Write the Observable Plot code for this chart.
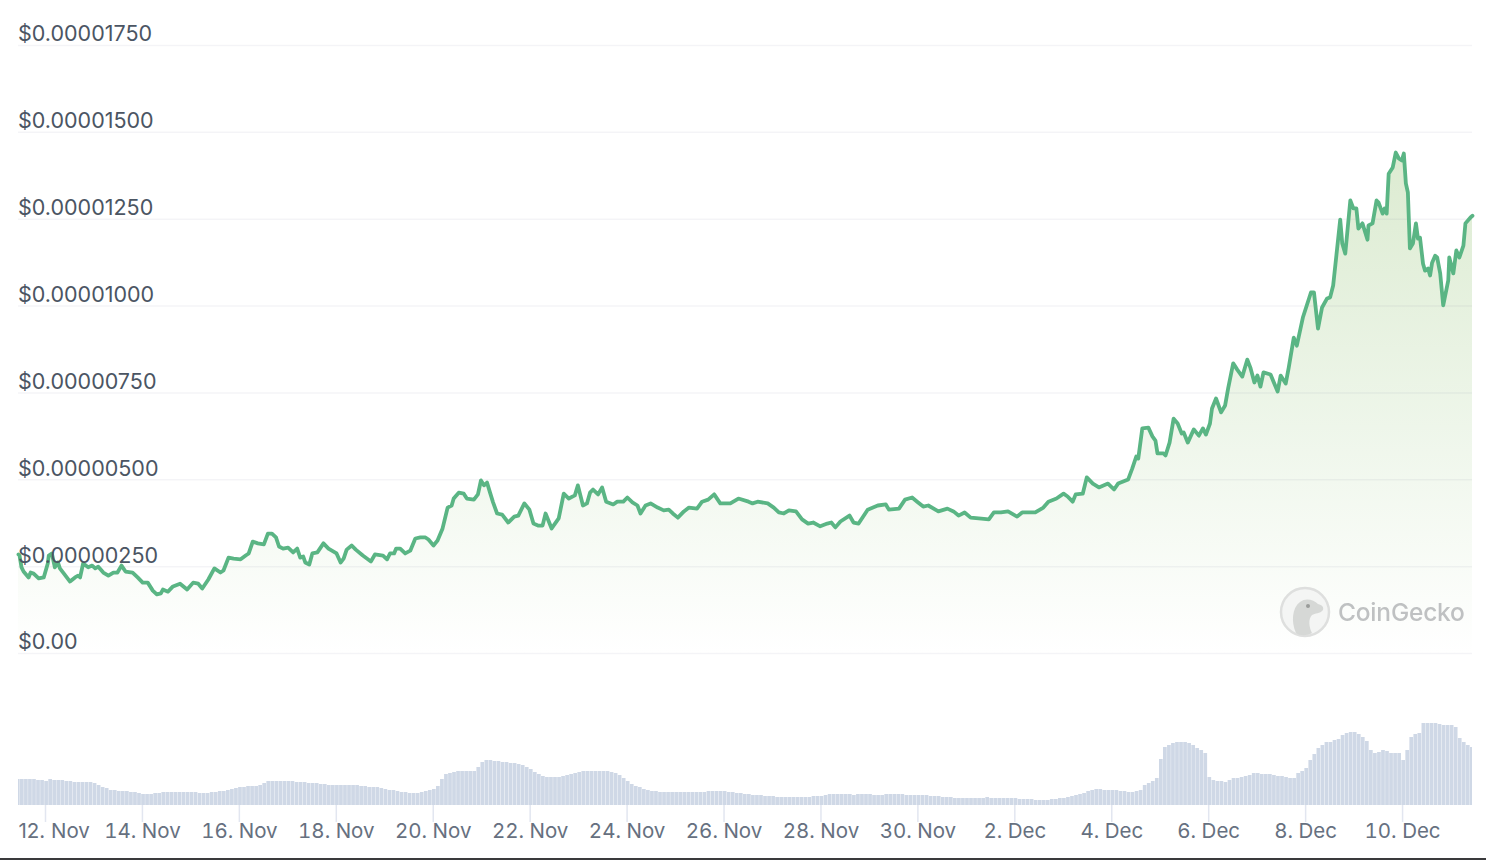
<!DOCTYPE html>
<html>
<head>
<meta charset="utf-8">
<script src="https://cdn.jsdelivr.net/npm/d3@7"></script>
<script src="https://cdn.jsdelivr.net/npm/@observablehq/plot@0.6"></script>
<style>
html,body{margin:0;padding:0;background:#fff;width:1486px;height:860px;overflow:hidden;}
#chart{position:relative;width:1486px;height:860px;}
#chart svg.plot{position:absolute;left:0;filter:blur(0.7px);}
#mark{position:absolute;left:1279px;top:586px;width:190px;height:54px;filter:blur(0.7px);}
#mark span{position:absolute;left:59px;top:11px;font:500 24.5px Inter,sans-serif;color:#bfc1c2;letter-spacing:-0.2px;}
#bottomline{position:absolute;left:0;top:858px;width:1486px;height:2px;background:#3a3a3c;}
</style>
</head>
<body>
<div id="chart"></div>
<script>
// 30-minute sample number since the start of the window
const sampleIndex = [0,1,3,5,10,12,15,20,25,29,30,33,36,39,41,45,51,56,59,61,64,69,73,76,79,84,89,94,98,102,106,113,118,123,128,133,137,141,143,148,153,160,167,173,178,182,188,194,200,203,208,213,220,225,228,232,237,243,247,251,255,258,262,267,272,276,279,282,284,288,291,296,302,307,315,319,322,325,330,334,341,349,353,361,365,368,372,374,378,383,388,393,398,403,406,411,415,420,425,429,431,436,441,444,451,455,458,461,464,467,470,474,479,485,491,495,501,506,510,515,519,522,528,535,540,545,551,554,559,563,566,569,574,578,582,589,593,599,603,608,613,616,621,626,633,639,644,648,653,659,664,672,677,683,689,695,705,713,723,727,732,742,748,753,758,763,770,776,782,787,794,801,805,809,814,823,827,832,841,851,859,862,872,878,885,890,896,901,911,920,926,931,937,943,951,961,966,973,980,989,994,1007,1015,1020,1028,1035,1039,1044,1047,1054,1058,1064,1070,1079,1085,1089,1099,1103,1107,1109,1113,1119,1123,1126,1128,1134,1136,1140,1144,1148,1152,1154,1158,1164,1169,1173,1176,1180,1182,1186,1191,1195,1198,1203,1207,1212,1217,1220,1224,1227,1230,1233,1240,1247,1250,1255,1258,1263,1266,1272,1280,1283,1287,1291,1296,1299,1302,1309,1311,1314,1319,1322,1325,1327,1331,1336,1337,1341,1345,1347,1351,1353,1355,1357,1361,1364,1367,1370,1372,1374,1376,1378,1381,1384,1386,1388,1391,1393,1396,1398,1400,1403,1405,1408,1411,1416,1417,1421,1424,1427,1431,1433,1438,1440];
// price in millionths of a dollar
const priceMicro = [2.85,2.82,2.48,2.36,2.19,2.33,2.30,2.16,2.19,2.59,2.82,2.88,2.48,2.62,2.45,2.30,2.07,2.19,2.24,2.19,2.59,2.48,2.53,2.45,2.50,2.33,2.24,2.33,2.33,2.53,2.36,2.33,2.19,2.04,2.04,1.81,1.70,1.73,1.84,1.78,1.93,2.01,1.84,2.04,2.01,1.87,2.13,2.45,2.33,2.39,2.76,2.73,2.71,2.82,2.88,3.22,3.17,3.14,3.45,3.45,3.34,3.08,3.02,3.05,2.91,3.02,2.76,2.79,2.62,2.56,2.88,2.91,3.17,3.02,2.88,2.62,2.73,2.99,3.11,2.99,2.82,2.65,2.85,2.82,2.71,2.88,2.88,3.02,3.02,2.88,2.96,3.31,3.34,3.34,3.28,3.11,3.25,3.60,4.20,4.26,4.46,4.63,4.60,4.46,4.43,4.58,4.98,4.84,4.92,4.63,4.35,4.03,4.00,3.77,3.94,3.97,4.32,4.14,3.74,3.68,3.68,4.03,3.60,3.89,4.60,4.46,4.55,4.84,4.26,4.32,4.63,4.72,4.58,4.78,4.37,4.29,4.37,4.37,4.49,4.35,4.26,4.03,4.26,4.32,4.20,4.12,4.14,4.03,3.91,4.09,4.20,4.17,4.37,4.43,4.58,4.32,4.32,4.46,4.37,4.32,4.37,4.32,4.20,4.06,4.03,4.12,4.09,3.86,3.74,3.77,3.66,3.74,3.77,3.63,3.80,3.97,3.77,3.74,4.14,4.26,4.29,4.14,4.17,4.43,4.49,4.37,4.23,4.26,4.09,4.17,4.09,3.97,4.06,3.91,3.89,3.86,4.06,4.06,4.09,3.94,4.06,4.06,4.20,4.37,4.46,4.60,4.52,4.37,4.58,4.60,5.07,4.89,4.78,4.89,4.72,4.89,5.01,5.32,5.67,5.61,6.48,6.50,6.25,6.13,5.76,5.76,5.70,6.07,6.76,6.62,6.33,6.36,6.07,6.45,6.27,6.48,6.30,6.62,7.05,7.34,6.94,7.14,7.63,8.35,8.17,7.97,8.46,8.23,7.80,8.00,7.68,8.09,8.03,7.54,8.00,7.77,8.23,9.09,8.86,9.67,10.39,10.39,9.35,9.96,10.22,10.25,10.59,12.49,11.80,11.51,13.04,12.81,12.81,12.23,12.38,11.91,12.32,12.38,13.04,12.98,12.66,12.81,12.66,13.81,13.99,14.42,14.25,14.19,14.39,13.53,13.27,11.66,11.80,12.38,11.94,11.97,11.22,11.02,11.08,10.88,11.25,11.45,11.40,10.94,10.02,10.74,11.40,10.94,11.60,11.40,11.74,12.38,12.55,12.60];
// traded volume, one bar per two hours, relative units
const volumeBars = [26,26,26,26,26,25,25,24,26,25,25,25,24,24,23,23,23,23,23,22,20,18,17,15,15,
14,14,14,13,13,12,11,11,11,12,12,13,13,13,13,13,13,13,13,13,12,12,12,13,13,
14,14,15,16,17,18,18,19,19,19,20,22,24,24,24,24,24,24,24,23,23,23,22,22,22,
21,21,20,20,20,20,20,20,20,20,19,19,18,18,18,17,16,15,15,14,13,13,12,12,12,
13,14,15,16,19,26,31,32,33,34,34,34,34,34,38,43,45,45,44,44,43,43,42,42,41,
40,38,36,33,31,29,28,28,28,28,29,30,31,32,33,34,34,34,34,34,34,34,33,32,30,
27,24,21,19,18,16,15,14,14,13,13,13,13,13,13,13,13,13,13,13,13,14,14,14,14,
14,13,13,12,12,11,11,10,10,10,9,9,9,8,8,8,8,8,8,8,8,8,9,9,9,
10,11,11,11,11,11,11,10,11,11,11,11,10,10,10,11,11,11,11,11,10,10,10,10,10,
10,9,9,9,8,8,8,7,7,7,7,7,7,7,7,8,7,7,7,7,7,7,7,6,6,
6,6,5,5,5,5,6,6,7,7,8,9,10,11,12,14,15,16,16,15,15,15,15,14,14,
13,13,14,15,20,22,24,27,46,58,60,62,63,63,63,62,60,57,55,52,28,25,24,24,23,
25,27,27,28,29,30,32,32,31,31,31,30,29,29,28,27,27,32,34,37,45,51,57,60,63,
63,65,66,70,72,73,73,71,68,64,55,52,53,55,54,52,52,52,45,55,68,71,72,82,82,
83,82,81,80,80,80,78,67,63,60,58];
const yTickValues = [0,2.5,5,7.5,10,12.5,15,17.5];
const yTickLabels = ["$0.00","$0.00000250","$0.00000500","$0.00000750","$0.00001000","$0.00001250","$0.00001500","$0.00001750"];
const xTickDays = ["2023-11-12","2023-11-14","2023-11-16","2023-11-18","2023-11-20","2023-11-22","2023-11-24","2023-11-26","2023-11-28","2023-11-30","2023-12-02","2023-12-04","2023-12-06","2023-12-08","2023-12-10"];
const xTickLabels = ["12. Nov","14. Nov","16. Nov","18. Nov","20. Nov","22. Nov","24. Nov","26. Nov","28. Nov","30. Nov","2. Dec","4. Dec","6. Dec","8. Dec","10. Dec"];

const startMs = Date.UTC(2023,10,11,10,38);
const HALF_HOUR = 1800000, TWO_HOURS = 7200000;
const xDomain = [new Date(startMs), new Date(startMs + 1440*HALF_HOUR)];
const priceRows = sampleIndex.map((s,i)=>({t:new Date(startMs + s*HALF_HOUR), p:priceMicro[i]}));
const volumeRows = volumeBars.map((v,k)=>({a:new Date(startMs + k*TWO_HOURS - TWO_HOURS/2), b:new Date(startMs + k*TWO_HOURS + TWO_HOURS/2), v}));
const yTicks = yTickValues.map((v,i)=>({v,label:yTickLabels[i]}));
const xTicks = xTickDays.map(d=>new Date(d+"T00:00:00Z"));
const tickLabelOf = new Map(xTicks.map((d,i)=>[+d,xTickLabels[i]]));

const gradientDefs = () => {
  const defs = d3.create("svg:defs");
  const g = defs.append("linearGradient").attr("id","priceFill").attr("gradientUnits","userSpaceOnUse")
    .attr("x1",0).attr("x2",0).attr("y1",150).attr("y2",653);
  g.append("stop").attr("offset","0%").attr("stop-color","#dcebd1");
  g.append("stop").attr("offset","55%").attr("stop-color","#eef6ea");
  g.append("stop").attr("offset","100%").attr("stop-color","#ffffff");
  return defs.node();
};

const fontStyle = {fontFamily:"Inter, sans-serif", fontSize:"20.5px", background:"transparent"};

const pricePlot = Plot.plot({
  width:1486, height:660,
  marginLeft:18, marginRight:14, marginTop:45, marginBottom:7,
  style:fontStyle,
  x:{type:"utc", domain:xDomain, axis:null},
  y:{domain:[0,17.5], axis:null},
  marks:[
    gradientDefs,
    Plot.areaY(priceRows,{x:"t", y:"p", fill:"url(#priceFill)", curve:"linear"}),
    Plot.ruleY(yTicks,{y:"v", stroke:"#3c4a78", strokeOpacity:0.06, strokeWidth:1.5}),
    Plot.lineY(priceRows,{x:"t", y:"p", stroke:"#5ab584", strokeWidth:3.8, curve:"linear", strokeLinejoin:"round"}),
    Plot.text(yTicks,{y:"v", text:"label", frameAnchor:"left", textAnchor:"start", dx:-0.5, dy:-11, fill:"#4b5563", fontSize:21.5})
  ]
});
pricePlot.style.top = "0px";

const volumePlot = Plot.plot({
  width:1486, height:200,
  marginLeft:18, marginRight:14, marginTop:63, marginBottom:55,
  style:fontStyle,
  x:{type:"utc", domain:xDomain, axis:null},
  y:{domain:[0,82], axis:null},
  marks:[
    Plot.rectY(volumeRows,{x1:"a", x2:"b", y:"v", fill:"#cfd8e6", insetRight:0.35, clip:true}),
    Plot.axisX({ticks:xTicks, tickSize:17, tickPadding:1, stroke:"#e2e6f0", strokeWidth:1.5,
      tickFormat:d=>d.getTime()===xTicks[0].getTime()?"":tickLabelOf.get(+d), fill:"#667080", fontSize:20.5}),
    Plot.text([xTicks[0]],{x:d=>d, text:()=>xTickLabels[0], frameAnchor:"bottom", textAnchor:"start", lineAnchor:"middle", dx:-27, dy:26, fill:"#667080", fontSize:20.5})
  ]
});
volumePlot.style.top = "660px";

const holder = document.getElementById("chart");
holder.append(pricePlot, volumePlot);
const mark = document.createElement("div");
mark.id = "mark";
mark.innerHTML = `<svg width="54" height="54" viewBox="0 0 54 54">
  <circle cx="26" cy="26" r="24" fill="#f4f5f4" stroke="#dedfde" stroke-width="2.5"/>
  <path d="M17 47 C12 36 13 22 21 16 C27 11 35 14 39 18 C43 19 45 21 44 24 C41 28 36 27 33 29 C29 33 30 41 33 47 C28 50 21 50 17 47 Z" fill="#d6d8d6"/>
  <circle cx="29" cy="20" r="2" fill="#9a9c9a"/>
</svg><span>CoinGecko</span>`;
holder.append(mark);
const line = document.createElement("div");
line.id = "bottomline";
holder.append(line);
</script>
</body>
</html>
